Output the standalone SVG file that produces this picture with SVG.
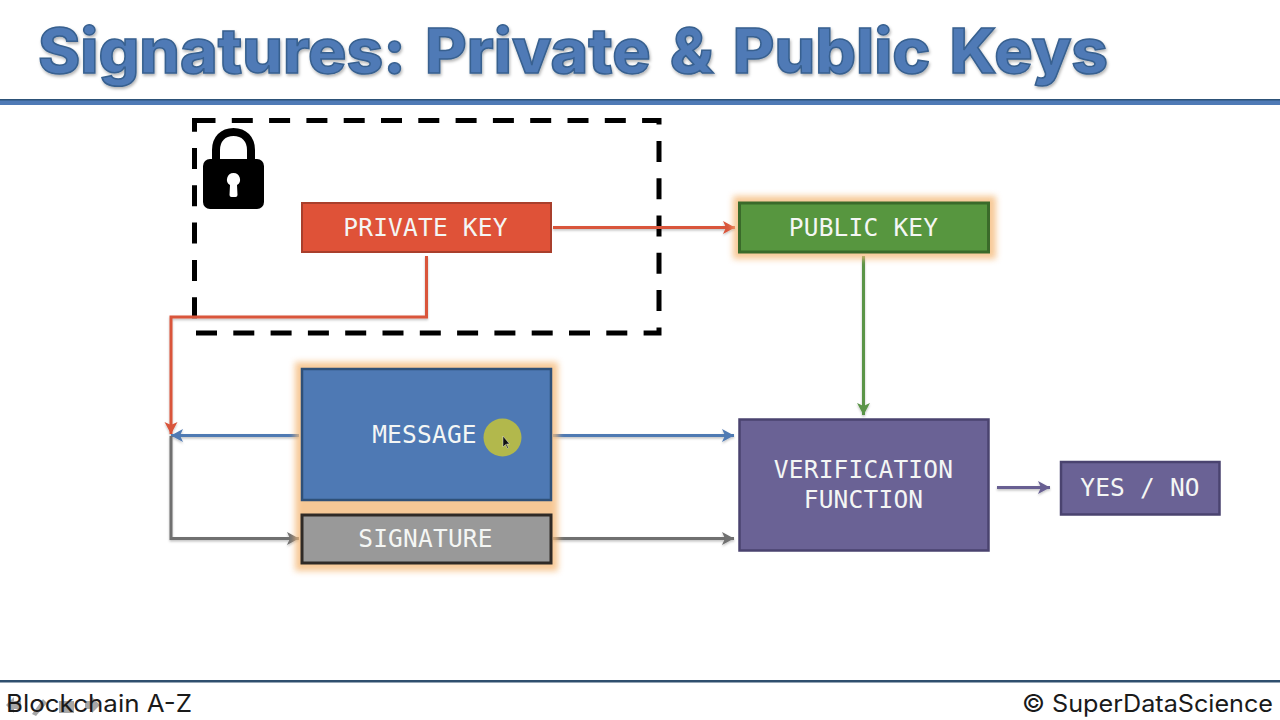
<svg xmlns="http://www.w3.org/2000/svg" width="1280" height="720" viewBox="0 0 1280 720">
<style>
.lbl{font-family:"DejaVu Sans Mono","Liberation Mono",monospace;font-size:24.5px;letter-spacing:.2px;fill:#f4f6f4;text-anchor:middle}
.foot{font-family:Inter,"Open Sans",sans-serif;font-size:24px;fill:#1a1a1a}
.conn{fill:none;stroke-width:3}
.halo{fill:#f5bb7c;opacity:.8;filter:url(#glow)}
</style>
<defs>
<filter id="glow" x="-20%" y="-40%" width="140%" height="180%"><feGaussianBlur stdDeviation="3"/></filter>
<filter id="ts" x="-5%" y="-20%" width="110%" height="140%"><feDropShadow dx="1" dy="2" stdDeviation="1.500" flood-color="#000" flood-opacity=".3"/></filter>
<filter id="ls" filterUnits="userSpaceOnUse" x="0" y="0" width="1280" height="720"><feDropShadow dx="0" dy="1.500" stdDeviation="1.200" flood-color="#000" flood-opacity=".25"/></filter>
<marker id="aRed" markerUnits="userSpaceOnUse" markerWidth="14" markerHeight="14" refX="12" refY="7" orient="auto"><path d="M0 .5L12 7L0 13.500L3 7Z" fill="#d9543a"/></marker>
<marker id="aBlue" markerUnits="userSpaceOnUse" markerWidth="14" markerHeight="14" refX="12" refY="7" orient="auto"><path d="M0 .5L12 7L0 13.500L3 7Z" fill="#4f7ab3"/></marker>
<marker id="aGray" markerUnits="userSpaceOnUse" markerWidth="14" markerHeight="14" refX="12" refY="7" orient="auto"><path d="M0 .5L12 7L0 13.500L3 7Z" fill="#6f6f6f"/></marker>
<marker id="aGreen" markerUnits="userSpaceOnUse" markerWidth="14" markerHeight="14" refX="12" refY="7" orient="auto"><path d="M0 .5L12 7L0 13.500L3 7Z" fill="#5a9447"/></marker>
<marker id="aPurple" markerUnits="userSpaceOnUse" markerWidth="14" markerHeight="14" refX="12" refY="7" orient="auto"><path d="M0 .5L12 7L0 13.500L3 7Z" fill="#675f92"/></marker>
</defs>
<rect width="1280" height="720" fill="#fff"/>
<g id="title">
<text x="38" y="73" font-family="Inter,'Open Sans',sans-serif" font-weight="800" font-size="62" word-spacing="5" fill="#4f7ab6" stroke="#37608f" stroke-width="1.500" textLength="1070" lengthAdjust="spacingAndGlyphs" filter="url(#ts)">Signatures: Private &amp; Public Keys</text>
<rect x="0" y="99" width="1280" height="6" fill="#4f7ab6"/>
<rect x="0" y="99" width="1280" height="1.500" fill="#2d5278"/>
</g>
<g id="enclosure"><rect x="194.500" y="120.500" width="464.500" height="212.500" fill="none" stroke="#000" stroke-width="5" stroke-dasharray="21 16.300"/></g>
<g id="lock">
<path d="M216 159V150C216 139 223 132 233.500 132C244 132 251 139 251 150V159" fill="none" stroke="#000" stroke-width="8"/>
<rect x="203" y="159" width="61" height="50" rx="7" fill="#000"/>
<path d="M233.500 173a6.500 6.500 0 0 1 3.500 12l.5 10a2 2 0 0 1-2 2h-4a2 2 0 0 1-2-2l.5-10a6.500 6.500 0 0 1 3.500-12Z" fill="#fff"/>
</g>
<g id="connectors">
<g filter="url(#ls)">
<path class="conn" d="M553 227.500H735" stroke="#d9543a" marker-end="url(#aRed)"/>
<path class="conn" d="M426.500 256V317H171V434" stroke="#d9543a" marker-end="url(#aRed)"/>
<path class="conn" d="M299 435.500H171" stroke="#4f7ab3" marker-end="url(#aBlue)"/>
<path class="conn" d="M171 436V538.500H299" stroke="#6f6f6f" marker-end="url(#aGray)"/>
<path class="conn" d="M553 435.500H734" stroke="#4f7ab3" marker-end="url(#aBlue)"/>
<path class="conn" d="M553 538.500H734" stroke="#6f6f6f" marker-end="url(#aGray)"/>
<path class="conn" d="M863.500 256V415" stroke="#5a9447" marker-end="url(#aGreen)"/>
<path class="conn" d="M997 487.500H1050" stroke="#675f92" marker-end="url(#aPurple)"/>
</g>
</g>
<g id="node-private-key">
<rect x="302" y="203" width="249" height="49" fill="#df5238" stroke="#a93f2c" stroke-width="2"/>
<text class="lbl" x="425.500" y="236">PRIVATE KEY</text>
</g>
<g id="node-public-key">
<rect class="halo" x="733" y="196" width="263" height="63"/>
<rect x="739.500" y="203" width="249" height="49" fill="#57963f" stroke="#3a6a2a" stroke-width="3"/>
<text class="lbl" x="863.500" y="236">PUBLIC KEY</text>
</g>
<g id="node-message-glow"><rect class="halo" x="295" y="362" width="263" height="209"/></g>
<g id="node-message">
<rect x="302" y="369" width="249" height="131" fill="#4e79b4" stroke="#2f5078" stroke-width="2.500"/>
<text class="lbl" x="424.500" y="443">MESSAGE</text>
<circle cx="502.500" cy="437.500" r="19" fill="#b2b84c"/>
<path d="M503 436V447L505.500 444.500L507.500 448.500L508.500 448L506.500 444H509.500Z" fill="#111" stroke="#fff" stroke-width=".4"/>
</g>
<g id="node-signature">
<rect x="302" y="515" width="249" height="48" fill="#999" stroke="#2f2a26" stroke-width="3"/>
<text class="lbl" x="425.500" y="547">SIGNATURE</text>
</g>
<g id="node-verification">
<rect x="739.500" y="419.500" width="249" height="131" fill="#6a6295" stroke="#4a436f" stroke-width="2.500"/>
<text class="lbl" x="863.500" y="478">VERIFICATION</text>
<text class="lbl" x="863.500" y="508">FUNCTION</text>
</g>
<g id="node-yes-no">
<rect x="1061" y="462" width="158.500" height="52.500" fill="#6a6295" stroke="#4a436f" stroke-width="2.500"/>
<text class="lbl" x="1140" y="496">YES / NO</text>
</g>
<g id="footer">
<rect x="0" y="680" width="1280" height="2.500" fill="#2f4f6e"/>
<g fill="#8a8a8a" opacity=".75">
<path d="M6 705L14 697V701H21V709H14V713Z"/>
<path d="M32 714L43 699L47 703L36 716Z"/>
<rect x="59" y="701" width="15" height="12"/>
<path d="M100 705L92 697V701H85V709H92V713Z"/>
</g>
<text class="foot" x="6" y="712" textLength="186" lengthAdjust="spacingAndGlyphs">Blockchain A-Z</text>
<text class="foot" x="1022" y="712" textLength="251" lengthAdjust="spacingAndGlyphs">© SuperDataScience</text>
</g>
</svg>
